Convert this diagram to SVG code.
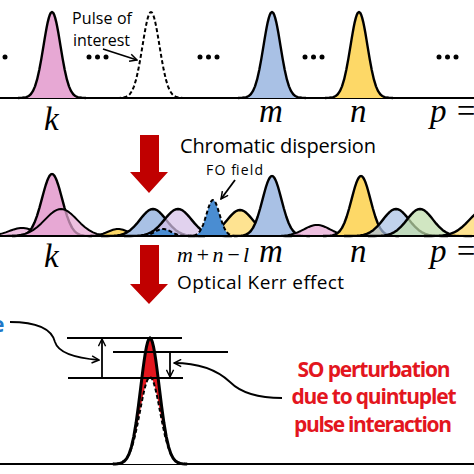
<svg xmlns="http://www.w3.org/2000/svg" xmlns:xlink="http://www.w3.org/1999/xlink" width="474" height="474" viewBox="0 0 474 474">
<style>
.ol{stroke:#000;stroke-width:2.4;stroke-linejoin:round}
.thin{stroke:#000;stroke-width:2;stroke-linejoin:round}
.dash{stroke:#000;stroke-width:2;stroke-dasharray:4 2.5;stroke-linejoin:round}
.pk{fill:#e7a8d4}
.bl{fill:#a9c1e5}
.ye{fill:#fdd867}
.gr{fill:#bfdcaa}
.pu{fill:#d6c1e8}
.fo{fill:#4a8dd2}
.tr{fill-opacity:.72}
.base{stroke:#000;stroke-width:2.2}
.sans{font-family:"Open Sans","Liberation Sans",sans-serif}
.lab{font-family:"Liberation Serif","DejaVu Serif",serif;font-style:italic;font-size:33px}
.red{fill:#c00000}
.note{font-family:"Open Sans","Liberation Sans",sans-serif;font-weight:bold;font-size:21px;fill:#e3161e}
.ln{stroke:#000;stroke-width:1.8;fill:none}
</style>
<defs>
<path id="g" vector-effect="non-scaling-stroke" d="M-4,0 L-3.75,-0.0009 L-3.5,-0.0022 L-3.25,-0.0051 L-3,-0.0111 L-2.75,-0.0228 L-2.5,-0.0439 L-2.25,-0.0794 L-2,-0.1353 L-1.75,-0.2163 L-1.5,-0.3247 L-1.25,-0.4578 L-1,-0.6065 L-0.875,-0.682 L-0.75,-0.7548 L-0.625,-0.8226 L-0.5,-0.8825 L-0.375,-0.9321 L-0.25,-0.9692 L-0.125,-0.9922 L0,-1 L0.125,-0.9922 L0.25,-0.9692 L0.375,-0.9321 L0.5,-0.8825 L0.625,-0.8226 L0.75,-0.7548 L0.875,-0.682 L1,-0.6065 L1.25,-0.4578 L1.5,-0.3247 L1.75,-0.2163 L2,-0.1353 L2.25,-0.0794 L2.5,-0.0439 L2.75,-0.0228 L3,-0.0111 L3.25,-0.0051 L3.5,-0.0022 L3.75,-0.0009 L4,0"/>
<marker id="ah" viewBox="0 0 10 10" refX="9" refY="5" markerWidth="9" markerHeight="9" markerUnits="userSpaceOnUse" orient="auto"><path d="M1,1 L9,5 L1,9" fill="none" stroke="#000" stroke-width="1.6"/></marker>
<clipPath id="tip"><rect x="100" y="330" width="100" height="22"/></clipPath>
</defs>
<g id="row1">
<line class="base" x1="0" y1="98" x2="474" y2="98"/>
<use xlink:href="#g" class="pk ol" transform="translate(52,98) scale(8.5,86)"/>
<use xlink:href="#g" class="dash" fill="none" transform="translate(151,98) scale(8.5,86)"/>
<use xlink:href="#g" class="bl ol" transform="translate(272,98) scale(8.5,86)"/>
<use xlink:href="#g" class="ye ol" transform="translate(359,98) scale(8.5,86)"/>
<g fill="#000">
<circle cx="5" cy="57" r="2.5"/>
<circle cx="89" cy="57" r="2.5"/><circle cx="97.5" cy="57" r="2.5"/><circle cx="106" cy="57" r="2.5"/>
<circle cx="200" cy="57" r="2.5"/><circle cx="208.5" cy="57" r="2.5"/><circle cx="217" cy="57" r="2.5"/>
<circle cx="305" cy="57" r="2.5"/><circle cx="313.5" cy="57" r="2.5"/><circle cx="322" cy="57" r="2.5"/>
<circle cx="439" cy="57" r="2.5"/><circle cx="447.5" cy="57" r="2.5"/><circle cx="456" cy="57" r="2.5"/>
</g>
<text class="sans" x="72" y="24" font-size="16" textLength="60">Pulse of</text>
<text class="sans" x="73" y="46" font-size="16" textLength="57">interest</text>
<path class="ln" d="M103,49 L137,60" marker-end="url(#ah)"/>
<text class="lab" x="44" y="130">k</text>
<text class="lab" x="259" y="122">m</text>
<text class="lab" x="350" y="122">n</text>
<text class="lab" x="430" y="122">p =</text>
</g>
<g id="arrow1">
<path class="red" d="M140,135 H159 V172 H168 L149,193 L130,172 H140 Z"/>
<text class="sans" x="180" y="153" font-size="20" textLength="196">Chromatic dispersion</text>
<text class="sans" x="206" y="175" font-size="14" textLength="57">FO field</text>
<path class="ln" d="M235,180 L221,199" marker-end="url(#ah)"/>
</g>
<g id="row2">
<use xlink:href="#g" class="pk tr thin" transform="translate(22,236) scale(13,8)"/>
<use xlink:href="#g" class="pk ol" transform="translate(52,236) scale(10,62)"/>
<use xlink:href="#g" class="pk tr thin" transform="translate(61,236) scale(16,27)"/>
<use xlink:href="#g" class="ye thin" transform="translate(118,236) scale(10,7)"/>
<use xlink:href="#g" class="bl ol" transform="translate(153,236) scale(13,27)"/>
<use xlink:href="#g" class="pu tr ol" transform="translate(178,236) scale(13.5,27)"/>
<use xlink:href="#g" class="fo dash" transform="translate(163,236) scale(8,7)"/>
<use xlink:href="#g" class="ye tr ol" transform="translate(240,236) scale(13,26)"/>
<use xlink:href="#g" class="fo dash" transform="translate(213,236) scale(6.5,36)"/>
<use xlink:href="#g" class="fo dash" transform="translate(258,236) scale(5.5,6)"/>
<use xlink:href="#g" class="bl ol" transform="translate(272,236) scale(9.5,60)"/>
<use xlink:href="#g" class="pk tr thin" transform="translate(317,236) scale(13,11)"/>
<use xlink:href="#g" class="ye ol" transform="translate(361,236) scale(9.5,60)"/>
<use xlink:href="#g" class="bl tr ol" transform="translate(396,236) scale(13,27)"/>
<use xlink:href="#g" class="gr tr ol" transform="translate(420,236) scale(13,27)"/>
<use xlink:href="#g" class="ye tr ol" transform="translate(484,236) scale(15,26)"/>
<line class="base" x1="0" y1="236" x2="474" y2="236"/>
<text class="lab" x="44" y="267">k</text>
<text class="lab" x="177" y="262" style="font-size:22px" textLength="72">m + n − l</text>
<text class="lab" x="259" y="262">m</text>
<text class="lab" x="350" y="262">n</text>
<text class="lab" x="430" y="262">p =</text>
</g>
<g id="arrow2">
<path class="red" d="M140,245 H159 V284 H168 L149,304 L130,284 H140 Z"/>
<text class="sans" x="177" y="289" font-size="19" textLength="167">Optical Kerr effect</text>
</g>
<g id="row3">
<line class="base" x1="0" y1="464" x2="474" y2="464"/>
<use xlink:href="#g" fill="#e3161e" stroke="none" transform="translate(150,464) scale(9.3,126)"/>
<use xlink:href="#g" fill="#2a6fc0" stroke="none" clip-path="url(#tip)" transform="translate(150,464) scale(9.3,126)"/>
<use xlink:href="#g" fill="#fff" class="dash" transform="translate(150,464) scale(10,87)"/>
<use xlink:href="#g" fill="none" stroke="#000" stroke-width="3" transform="translate(150,464) scale(9.3,126)"/>
<line class="ln" x1="67" y1="338" x2="182" y2="338"/>
<line class="ln" x1="113" y1="352" x2="228" y2="352"/>
<line class="ln" x1="68" y1="378" x2="183" y2="378"/>
<path class="ln" d="M102,378 V339" marker-end="url(#ah)"/>
<path class="ln" d="M170,352 V377" marker-end="url(#ah)"/>
<path class="ln" d="M10,322 C40,322 52,330 55,342 C58,352 75,358 99,360" marker-end="url(#ah)"/>
<path class="ln" d="M282,398 C255,398 240,392 230,382 C215,368 195,363 174,363" marker-end="url(#ah)"/>
<text x="-8" y="332" font-family="Open Sans, Liberation Sans, sans-serif" font-weight="bold" font-size="21" fill="#1f77c8">e</text>
<text class="note" x="374" y="377" text-anchor="middle" textLength="153">SO perturbation</text>
<text class="note" x="374" y="404" text-anchor="middle" textLength="165">due to quintuplet</text>
<text class="note" x="373" y="432" text-anchor="middle" textLength="158">pulse interaction</text>
</g>
</svg>
